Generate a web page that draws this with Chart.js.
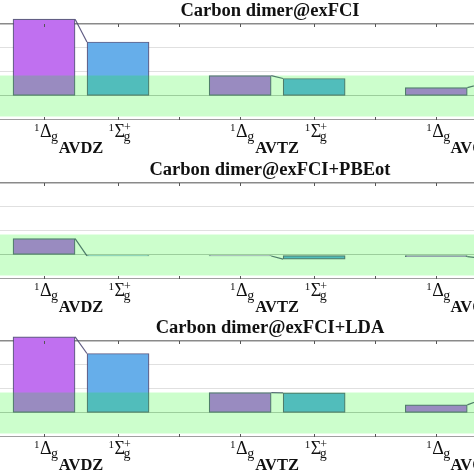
<!DOCTYPE html>
<html><head><meta charset="utf-8">
<script src="https://cdn.jsdelivr.net/npm/chart.js@4.4.1/dist/chart.umd.min.js"></script>
<style>
html,body{margin:0;padding:0;background:#fff;overflow:hidden;width:474px;height:474px;}
.p{position:absolute;left:0;width:474px;height:158px;}
</style></head><body>
<div class="p" style="top:0"><canvas id="c0"></canvas></div>
<div class="p" style="top:159px"><canvas id="c1"></canvas></div>
<div class="p" style="top:317px"><canvas id="c2"></canvas></div>
<script>
// ---- data ----
const panelTitles = ['Carbon dimer@exFCI', 'Carbon dimer@exFCI+PBEot', 'Carbon dimer@exFCI+LDA'];
const stateSymbols = ['Δ', 'Σ', 'Δ', 'Σ', 'Δ', 'Σ'];
const statePlus = [false, true, false, true, false, true];
const basisSets = ['AVDZ', 'AVTZ', 'AVQZ'];
const barPositions = [1, 2, 3.65, 4.65, 6.3, 7.3];
const gapTicks = [2.825, 5.475];
const xRange = [0.405, 6.81];
const yRange = [-1, 3];
const yGrid = [-1, 0, 1, 2, 3];
const exFCI = [3.2, 2.25, 0.85, 0.73, 0.35, 0.48];
const exFCI_PBEot = [0.68, -0.04, -0.04, -0.17, -0.07, -0.12];
const exFCI_LDA = [3.17, 2.48, 0.85, 0.84, 0.34, 0.52];
const accuracyBand = [-0.85, 0.85];
const panelValues = [exFCI, exFCI_PBEot, exFCI_LDA];

// ---- styles ----
const PURPLE = '#c070f0', BLUE = '#66aeea';
const EDGE = 'rgba(70,66,110,0.85)';
const BAR_W = 62;           // px
const HALF_W_UNITS = 0.42;  // half bar width in x units (62px / 74px per unit / 2)
const SERIF = '"Liberation Serif", "DejaVu Serif", serif';

function stateLabel(ctx, px, base, sym, plus) {
  ctx.font = '11px ' + SERIF; const w1 = ctx.measureText('1').width;
  ctx.font = '18px ' + SERIF; const wS = ctx.measureText(sym).width;
  ctx.font = '14px ' + SERIF; const wg = ctx.measureText('g').width;
  const total = w1 + wS + wg;
  let x = px - total / 2 + 2;
  ctx.textAlign = 'left'; ctx.textBaseline = 'alphabetic'; ctx.fillStyle = '#111';
  ctx.font = '11px ' + SERIF; ctx.fillText('1', x, base - 6); x += w1 + 0.5;
  ctx.font = '18px ' + SERIF; ctx.fillText(sym, x, base); x += wS - (plus ? 1.5 : 0.5);
  ctx.font = '14px ' + SERIF; ctx.fillText('g', x, base + 4);
  if (plus) { ctx.font = '12px ' + SERIF; ctx.fillText('+', x + 0.5, base - 6); }
}

const decor = {
  id: 'decor',
  afterDraw(chart, args, opts) {
    const ctx = chart.ctx, xs = chart.scales.x, a = chart.chartArea;
    ctx.save();
    // inward tick marks
    ctx.strokeStyle = '#555'; ctx.lineWidth = 1;
    [...barPositions, ...gapTicks].forEach(v => {
      const px = Math.round(xs.getPixelForValue(v)) + 0.5;
      ctx.beginPath();
      ctx.moveTo(px, a.top); ctx.lineTo(px, a.top + 3);
      ctx.moveTo(px, a.bottom); ctx.lineTo(px, a.bottom - 3);
      ctx.stroke();
    });
    // state labels
    barPositions.forEach((v, i) => {
      stateLabel(ctx, xs.getPixelForValue(v), a.bottom + 17, stateSymbols[i], statePlus[i]);
    });
    // basis set labels
    ctx.font = 'bold 16.5px ' + SERIF; ctx.textAlign = 'center'; ctx.fillStyle = '#111';
    basisSets.forEach((b, g) => {
      const c = (xs.getPixelForValue(barPositions[2 * g]) + xs.getPixelForValue(barPositions[2 * g + 1])) / 2;
      ctx.fillText(b, c, a.bottom + 33);
    });
    // title
    ctx.font = 'bold 18.5px ' + SERIF; ctx.textAlign = 'center';
    ctx.fillText(opts.text, 270, a.top - 8);
    ctx.restore();
  }
};

function makeChart(id, title, values) {
  const bars = barPositions.map((x, i) => ({ x, y: values[i] }));
  const conn = [];
  for (let g = 0; g < basisSets.length; g++) {
    const a = 2 * g, b = 2 * g + 1;
    conn.push({ x: barPositions[a] + HALF_W_UNITS, y: values[a] });
    conn.push({ x: barPositions[b] - HALF_W_UNITS, y: values[b] });
    conn.push({ x: barPositions[b] + 0.5, y: null });
  }
  const bandHi = [{ x: xRange[0], y: accuracyBand[1] }, { x: xRange[1], y: accuracyBand[1] }];
  const bandLo = [{ x: xRange[0], y: accuracyBand[0] }, { x: xRange[1], y: accuracyBand[0] }];
  new Chart(document.getElementById(id), {
    type: 'bar',
    data: {
      datasets: [
        { type: 'bar', data: bars, order: 3, clip: false,
          backgroundColor: stateSymbols.map(s => s === 'Δ' ? PURPLE : BLUE),
          borderColor: EDGE, borderWidth: 1.2, borderSkipped: false, barThickness: BAR_W },
        { type: 'line', data: conn, order: 2, clip: false, borderColor: EDGE, borderWidth: 1.2,
          pointRadius: 0, spanGaps: false, fill: false, tension: 0 },
        { type: 'line', data: bandHi, order: 1, borderWidth: 0, pointRadius: 0, fill: false },
        { type: 'line', data: bandLo, order: 0, borderWidth: 0, pointRadius: 0,
          fill: '-1', backgroundColor: 'rgba(0,250,0,0.2)' }
      ]
    },
    options: {
      responsive: true, maintainAspectRatio: false, animation: false,
      layout: { padding: { top: 24, bottom: 38, left: 0, right: 0 } },
      plugins: { legend: { display: false }, tooltip: { enabled: false }, decor: { text: title } },
      scales: {
        x: { type: 'linear', min: xRange[0], max: xRange[1], offset: false, display: false },
        y: { min: yRange[0], max: yRange[1],
          afterBuildTicks: s => { s.ticks = yGrid.map(v => ({ value: v })); },
          ticks: { display: false },
          border: { display: false },
          grid: { drawTicks: false,
            color: c => c.tick.value === yRange[1] ? '#8a8a8a' : c.tick.value === yRange[0] ? '#a0a0a0' : c.tick.value === 0 ? '#c4c4c4' : '#e0e0e0',
            lineWidth: c => c.tick.value === yRange[1] ? 1.5 : 1.1 } }
      }
    },
    plugins: [decor]
  });
}
panelTitles.forEach((t, i) => makeChart('c' + i, t, panelValues[i]));
</script>
</body></html>
